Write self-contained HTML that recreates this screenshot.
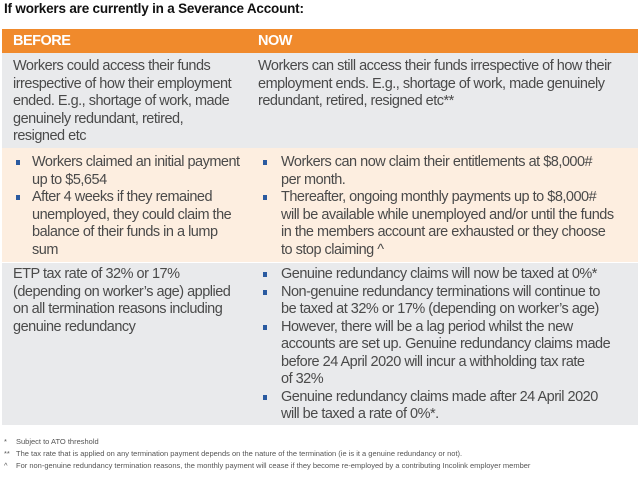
<!DOCTYPE html>
<html><head><meta charset="utf-8"><style>
body{margin:0;width:640px;height:498px;background:#fff;font-family:"Liberation Sans",Arial,sans-serif;color:#4a4a4a;position:relative;overflow:hidden}
.t{position:absolute;left:4px;top:1px;font-size:13.5px;font-weight:bold;color:#111;letter-spacing:-0.2px}
.row{position:absolute;left:2px;width:636px}
.c{position:absolute;font-size:14.5px;line-height:17.5px;letter-spacing:-0.5px;white-space:nowrap}
.l{left:11px}.r{left:256px}
.h{background:#f08a2c;color:#fff;font-weight:bold}
.g{background:#e9eaec}.p{background:#fdeee0}
ul{margin:0;padding:0;list-style:none}
li{position:relative;padding-left:21px}
.l li{padding-left:19px}
li:before{content:"";position:absolute;left:3px;top:6px;width:4px;height:5px;background:#2a5aa0}
.f{position:absolute;left:4px;font-size:7.5px;color:#555;white-space:nowrap}
.f span{display:inline-block;width:12px}
</style></head><body>
<div class="t">If workers are currently in a Severance Account:</div>
<div class="row h" style="top:29px;height:24px"><div class="c l" style="top:4px">BEFORE</div><div class="c r" style="top:4px">NOW</div></div>
<div class="row g" style="top:53px;height:95px">
<div class="c l" style="top:5px">Workers could access their funds<br>irrespective of how their employment<br>ended. E.g., shortage of work, made<br>genuinely redundant, retired,<br>resigned etc</div>
<div class="c r" style="top:5px">Workers can still access their funds irrespective of how their<br>employment ends. E.g., shortage of work, made genuinely<br>redundant, retired, resigned etc**</div></div>
<div class="row p" style="top:148px;height:114px">
<div class="c l" style="top:6px;left:11px"><ul><li>Workers claimed an initial payment<br>up to $5,654</li><li>After 4 weeks if they remained<br>unemployed, they could claim the<br>balance of their funds in a lump<br>sum</li></ul></div>
<div class="c r" style="top:6px;left:258px"><ul><li>Workers can now claim their entitlements at $8,000#<br>per month.</li><li>Thereafter, ongoing monthly payments up to $8,000#<br>will be available while unemployed and/or until the funds<br>in the members account are exhausted or they choose<br>to stop claiming ^</li></ul></div></div>
<div class="row g" style="top:263px;height:162px">
<div class="c l" style="top:3px">ETP tax rate of 32% or 17%<br>(depending on worker’s age) applied<br>on all termination reasons including<br>genuine redundancy</div>
<div class="c r" style="top:3px;left:258px"><ul><li>Genuine redundancy claims will now be taxed at 0%*</li><li>Non-genuine redundancy terminations will continue to<br>be taxed at 32% or 17% (depending on worker’s age)</li><li>However, there will be a lag period whilst the new<br>accounts are set up. Genuine redundancy claims made<br>before 24 April 2020 will incur a withholding tax rate<br>of 32%</li><li>Genuine redundancy claims made after 24 April 2020<br>will be taxed a rate of 0%*.</li></ul></div></div>
<div class="f" style="top:437px"><span>*</span>Subject to ATO threshold</div>
<div class="f" style="top:449px"><span>**</span>The tax rate that is applied on any termination payment depends on the nature of the termination (ie is it a genuine redundancy or not).</div>
<div class="f" style="top:461px"><span>^</span>For non-genuine redundancy termination reasons, the monthly payment will cease if they become re-employed by a contributing Incolink employer member</div>
</body></html>
